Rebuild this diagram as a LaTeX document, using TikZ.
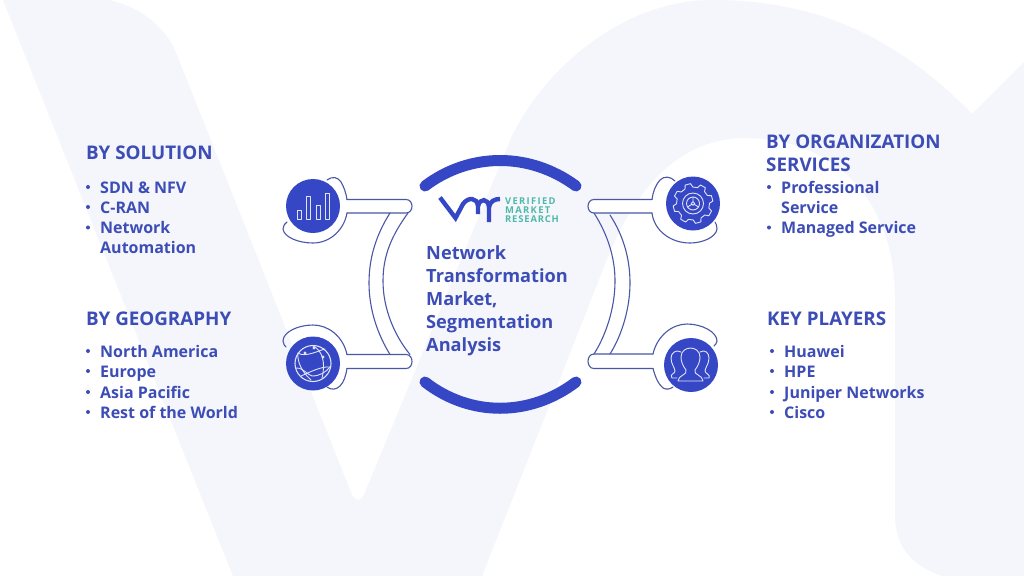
\documentclass[tikz,border=0pt]{standalone}
\usepackage{fontspec}
\setmainfont{Open Sans}
\definecolor{pale}{HTML}{F4F6FC}
\definecolor{ink}{HTML}{3D4DB6}
\definecolor{disc}{HTML}{3547C4}
\definecolor{wire}{HTML}{4A56A6}
\definecolor{teal}{HTML}{4FB9A9}
\tikzset{
  head/.style={anchor=base west,inner sep=0pt,text=ink,font=\fontsize{18.8}{20}\selectfont\bfseries},
  item/.style={anchor=base west,inner sep=0pt,text=ink,font=\fontsize{16}{18}\selectfont\bfseries},
  title/.style={anchor=base west,inner sep=0pt,text=ink,font=\fontsize{18.2}{20}\selectfont\bfseries},
  dot/.style={circle,fill=ink,inner sep=0pt,minimum size=4pt},
  wireline/.style={draw=wire,line width=1.1pt,line join=round,line cap=round},
  arcband/.style={draw=disc,line width=11pt,line cap=round},
  disk/.style={circle,fill=disc,inner sep=0pt,minimum size=54pt},
  icon/.style={draw=white!85!disc,line width=.9pt,line join=round,line cap=round},
  logotext/.style={anchor=base west,inner sep=0pt,text=teal,font=\fontsize{9.4}{10}\selectfont\bfseries},
  logoline/.style={draw=disc,line width=4.4pt,line join=miter}
}
\begin{document}
\begin{tikzpicture}[x=1pt,y=-1pt]
\useasboundingbox (0,0) rectangle (1024,576);
\fill[white] (0,0) rectangle (1024,576);
% background letters
\fill[pale] (3,0) -- (110,0) .. controls (140,8) and (165,25) .. (177,55)
  -- (350,490) .. controls (354,503) and (362,503) .. (366,490)
  -- (512,136) .. controls (550,60) and (630,0) .. (712,0)
  .. controls (820,0) and (900,40) .. (972,114) -- (1024,62) -- (1024,576) -- (942,576)
  .. controls (910,565) and (895,545) .. (895,514) -- (895,294)
  .. controls (893,195) and (830,138) .. (745,138)
  .. controls (675,138) and (630,195) .. (602,272) -- (482,576) -- (233,576) -- cycle;
% centre arcs
\draw[arcband] (425,186) .. controls (470,152) and (530,152) .. (576,186);
\draw[arcband] (425,382) .. controls (470,417) and (530,417) .. (576,382);
% left connector
\draw[wireline,fill=white] (347,199.5) -- (406,199.5) .. controls (414,199.5) and (414,213) .. (406,213) -- (347,213);
\draw[wireline,fill=white] (347,354.5) -- (406,354.5) .. controls (414,354.5) and (414,368.5) .. (406,368.5) -- (347,368.5);
\draw[wireline] (390,213) .. controls (376,235) and (369,258) .. (369,283) .. controls (369,310) and (378,335) .. (390,354.5);
\draw[wireline] (408,213) .. controls (392,235) and (383,255) .. (383,281) .. controls (383,308) and (394,335) .. (410,354.5);
\draw[wireline] (327,180) .. controls (332,176) and (338,177) .. (341,182) .. controls (344,187) and (346,193) .. (347,199.5);
\draw[wireline] (347,213) .. controls (344,230) and (330,243) .. (313,243) .. controls (298,243) and (284,237) .. (283,229) .. controls (283,226) and (285,223) .. (287,222);
\draw[wireline] (347,354.5) .. controls (343,336) and (328,325) .. (313,325) .. controls (298,325) and (283,332) .. (283,341) .. controls (283,344) and (285,346) .. (286,347);
\draw[wireline] (347,368.5) .. controls (346,375) and (344,382) .. (340,386) .. controls (336,390) and (331,390) .. (327,387);
% right connector
\draw[wireline,fill=white] (652,199.5) -- (594,199.5) .. controls (586,199.5) and (586,213) .. (594,213) -- (652,213);
\draw[wireline,fill=white] (653,354) -- (594,354) .. controls (586,354) and (586,368.5) .. (594,368.5) -- (653,368.5);
\draw[wireline] (594,213) .. controls (608,235) and (615,258) .. (615,281) .. controls (615,308) and (606,335) .. (594,354);
\draw[wireline] (610,215) .. controls (623,235) and (630,258) .. (630,283) .. controls (630,308) and (622,335) .. (610,354);
\draw[wireline] (675,181) .. controls (670,176) and (664,176) .. (660,180) .. controls (655,186) and (653,192) .. (652,199.5);
\draw[wireline] (652,213) .. controls (654,230) and (670,243) .. (690,243) .. controls (703,243) and (716,237) .. (717,229) .. controls (717,226) and (716,223) .. (715,222);
\draw[wireline] (653,354) .. controls (657,336) and (672,324) .. (687,324) .. controls (702,324) and (717,332) .. (717,341) .. controls (717,343) and (715,345) .. (714,346);
\draw[wireline] (653,368.5) .. controls (655,376) and (658,384) .. (663,388) .. controls (667,390) and (670,389) .. (673,387);
% discs
\node[disk] (d1) at (313,206) {};
\node[disk] (d2) at (313,363.5) {};
\node[disk] (d3) at (693,203.5) {};
\node[disk] (d4) at (691,365) {};
% bar icon
\draw[icon] (297,210) rectangle (301.5,219);
\draw[icon] (306,196) rectangle (310.5,219);
\draw[icon] (316,205) rectangle (320,219);
\draw[icon] (325,193) rectangle (329,219);
% globe icon
\draw[icon,line width=1.1pt] (313,363.5) circle (18);
\draw[icon] (298,353) .. controls (305,358) and (320,350) .. (325,349);
\draw[icon] (296,368) .. controls (304,368) and (306,374) .. (312,376) .. controls (320,376) and (326,372) .. (330,367);
\draw[icon] (301,376) .. controls (310,372) and (322,366) .. (330,367);
\draw[icon] (313,346) .. controls (322,350) and (326,362) .. (322,378);
\draw[icon] (298,353) .. controls (297,362) and (302,372) .. (311,380);
\fill[white!85!disc] (314,348) circle (1.6) (323,357) circle (1.6) (305,353) circle (1.6);
% gear icon
\draw[icon] (693,203.5)
  +(16:16.5) -- +(22:20) -- +(38:20) -- +(44:16.5)
  -- +(61:16.5) -- +(67:20) -- +(83:20) -- +(89:16.5)
  -- +(106:16.5) -- +(112:20) -- +(128:20) -- +(134:16.5)
  -- +(151:16.5) -- +(157:20) -- +(173:20) -- +(179:16.5)
  -- +(196:16.5) -- +(202:20) -- +(218:20) -- +(224:16.5)
  -- +(241:16.5) -- +(247:20) -- +(263:20) -- +(269:16.5)
  -- +(286:16.5) -- +(292:20) -- +(308:20) -- +(314:16.5)
  -- +(331:16.5) -- +(337:20) -- +(353:20) -- +(359:16.5) -- cycle;
\draw[icon] (693,203.5) circle (10.5);
\draw[icon] (693,203.5) circle (6.5);
\draw[icon] (693,203.5) circle (1.8);
\draw[icon] (693,201.7) -- (693,197) (691.5,204.5) -- (687.5,207) (694.5,204.5) -- (698.5,207);
% people icon
\draw[icon] (678,381) .. controls (678,375) and (688,375) .. (686,370)
  .. controls (682,365) and (681,360) .. (681,357) .. controls (681,351) and (686,348) .. (690.5,348)
  .. controls (695,348) and (700,351) .. (700,357) .. controls (700,360) and (699,365) .. (695,370)
  .. controls (693,375) and (703,375) .. (703,381) -- cycle;
\draw[icon] (681,352) .. controls (676,349) and (671,353) .. (671,358) .. controls (671,364) and (675,368) .. (675,371) .. controls (675,374) and (669,374) .. (672,378) -- (677,378);
\draw[icon] (700,352) .. controls (705,349) and (709,353) .. (709,358) .. controls (709,364) and (705,368) .. (705,371) .. controls (705,374) and (711,374) .. (709,378) -- (704,378);
% logo
\draw[logoline] (440,197.5) -- (455.5,218) -- (463,204) .. controls (468,197) and (477,197) .. (478,206) -- (478,214);
\draw[logoline] (478,206) .. controls (480,198) and (488,198) .. (489,207) -- (489,222);
\draw[logoline] (489,207) .. controls (490,201) and (495,199) .. (500,199);
\node[logotext] (l1) at (505,204.5) {\addfontfeature{LetterSpace=14}VERIFIED};
\node[logotext] (l2) at (505,213.5) {\addfontfeature{LetterSpace=14}MARKET};
\node[logotext] (l3) at (505,222.5) {\addfontfeature{LetterSpace=9}RESEARCH};
% title
\node[title] (t1) at (426,259) {Network};
\node[title] (t2) at (426,282) {Transformation};
\node[title] (t3) at (426,305) {Market,};
\node[title] (t4) at (426,328.5) {Segmentation};
\node[title] (t5) at (426,351.5) {Analysis};
% left blocks
\node[head] (h1) at (86,159) {BY SOLUTION};
\foreach \n/\y/\t in {a/193/SDN \& NFV,b/213/C-RAN,c/233.5/Network}{
  \node[dot] (dot\n) at (88,\y-6) {};
  \node[item] (i\n) at (100,\y) {\t};
}
\node[item] (ic2) at (100,253.5) {Automation};
\node[head] (h2) at (86,325) {BY GEOGRAPHY};
\foreach \n/\y/\t in {d/357/North America,e/377/Europe,f/398/Asia Pacific,g/418/Rest of the World}{
  \node[dot] (dot\n) at (88,\y-6) {};
  \node[item] (i\n) at (100,\y) {\t};
}
% right blocks
\node[head] (h3) at (766,148) {BY ORGANIZATION};
\node[head] (h3b) at (766,171) {SERVICES};
\node[dot] (doth) at (769,187) {};
\node[item] (ih) at (781,193) {Professional};
\node[item] (ih2) at (781,213) {Service};
\node[dot] (doti) at (769,227.5) {};
\node[item] (ii) at (781,233.5) {Managed Service};
\node[head] (h4) at (767,325) {KEY PLAYERS};
\foreach \n/\y/\t in {j/357/Huawei,k/377/HPE,l/398/Juniper Networks,m/418/Cisco}{
  \node[dot] (dot\n) at (772,\y-6) {};
  \node[item] (i\n) at (784,\y) {\t};
}
\end{tikzpicture}
\end{document}
